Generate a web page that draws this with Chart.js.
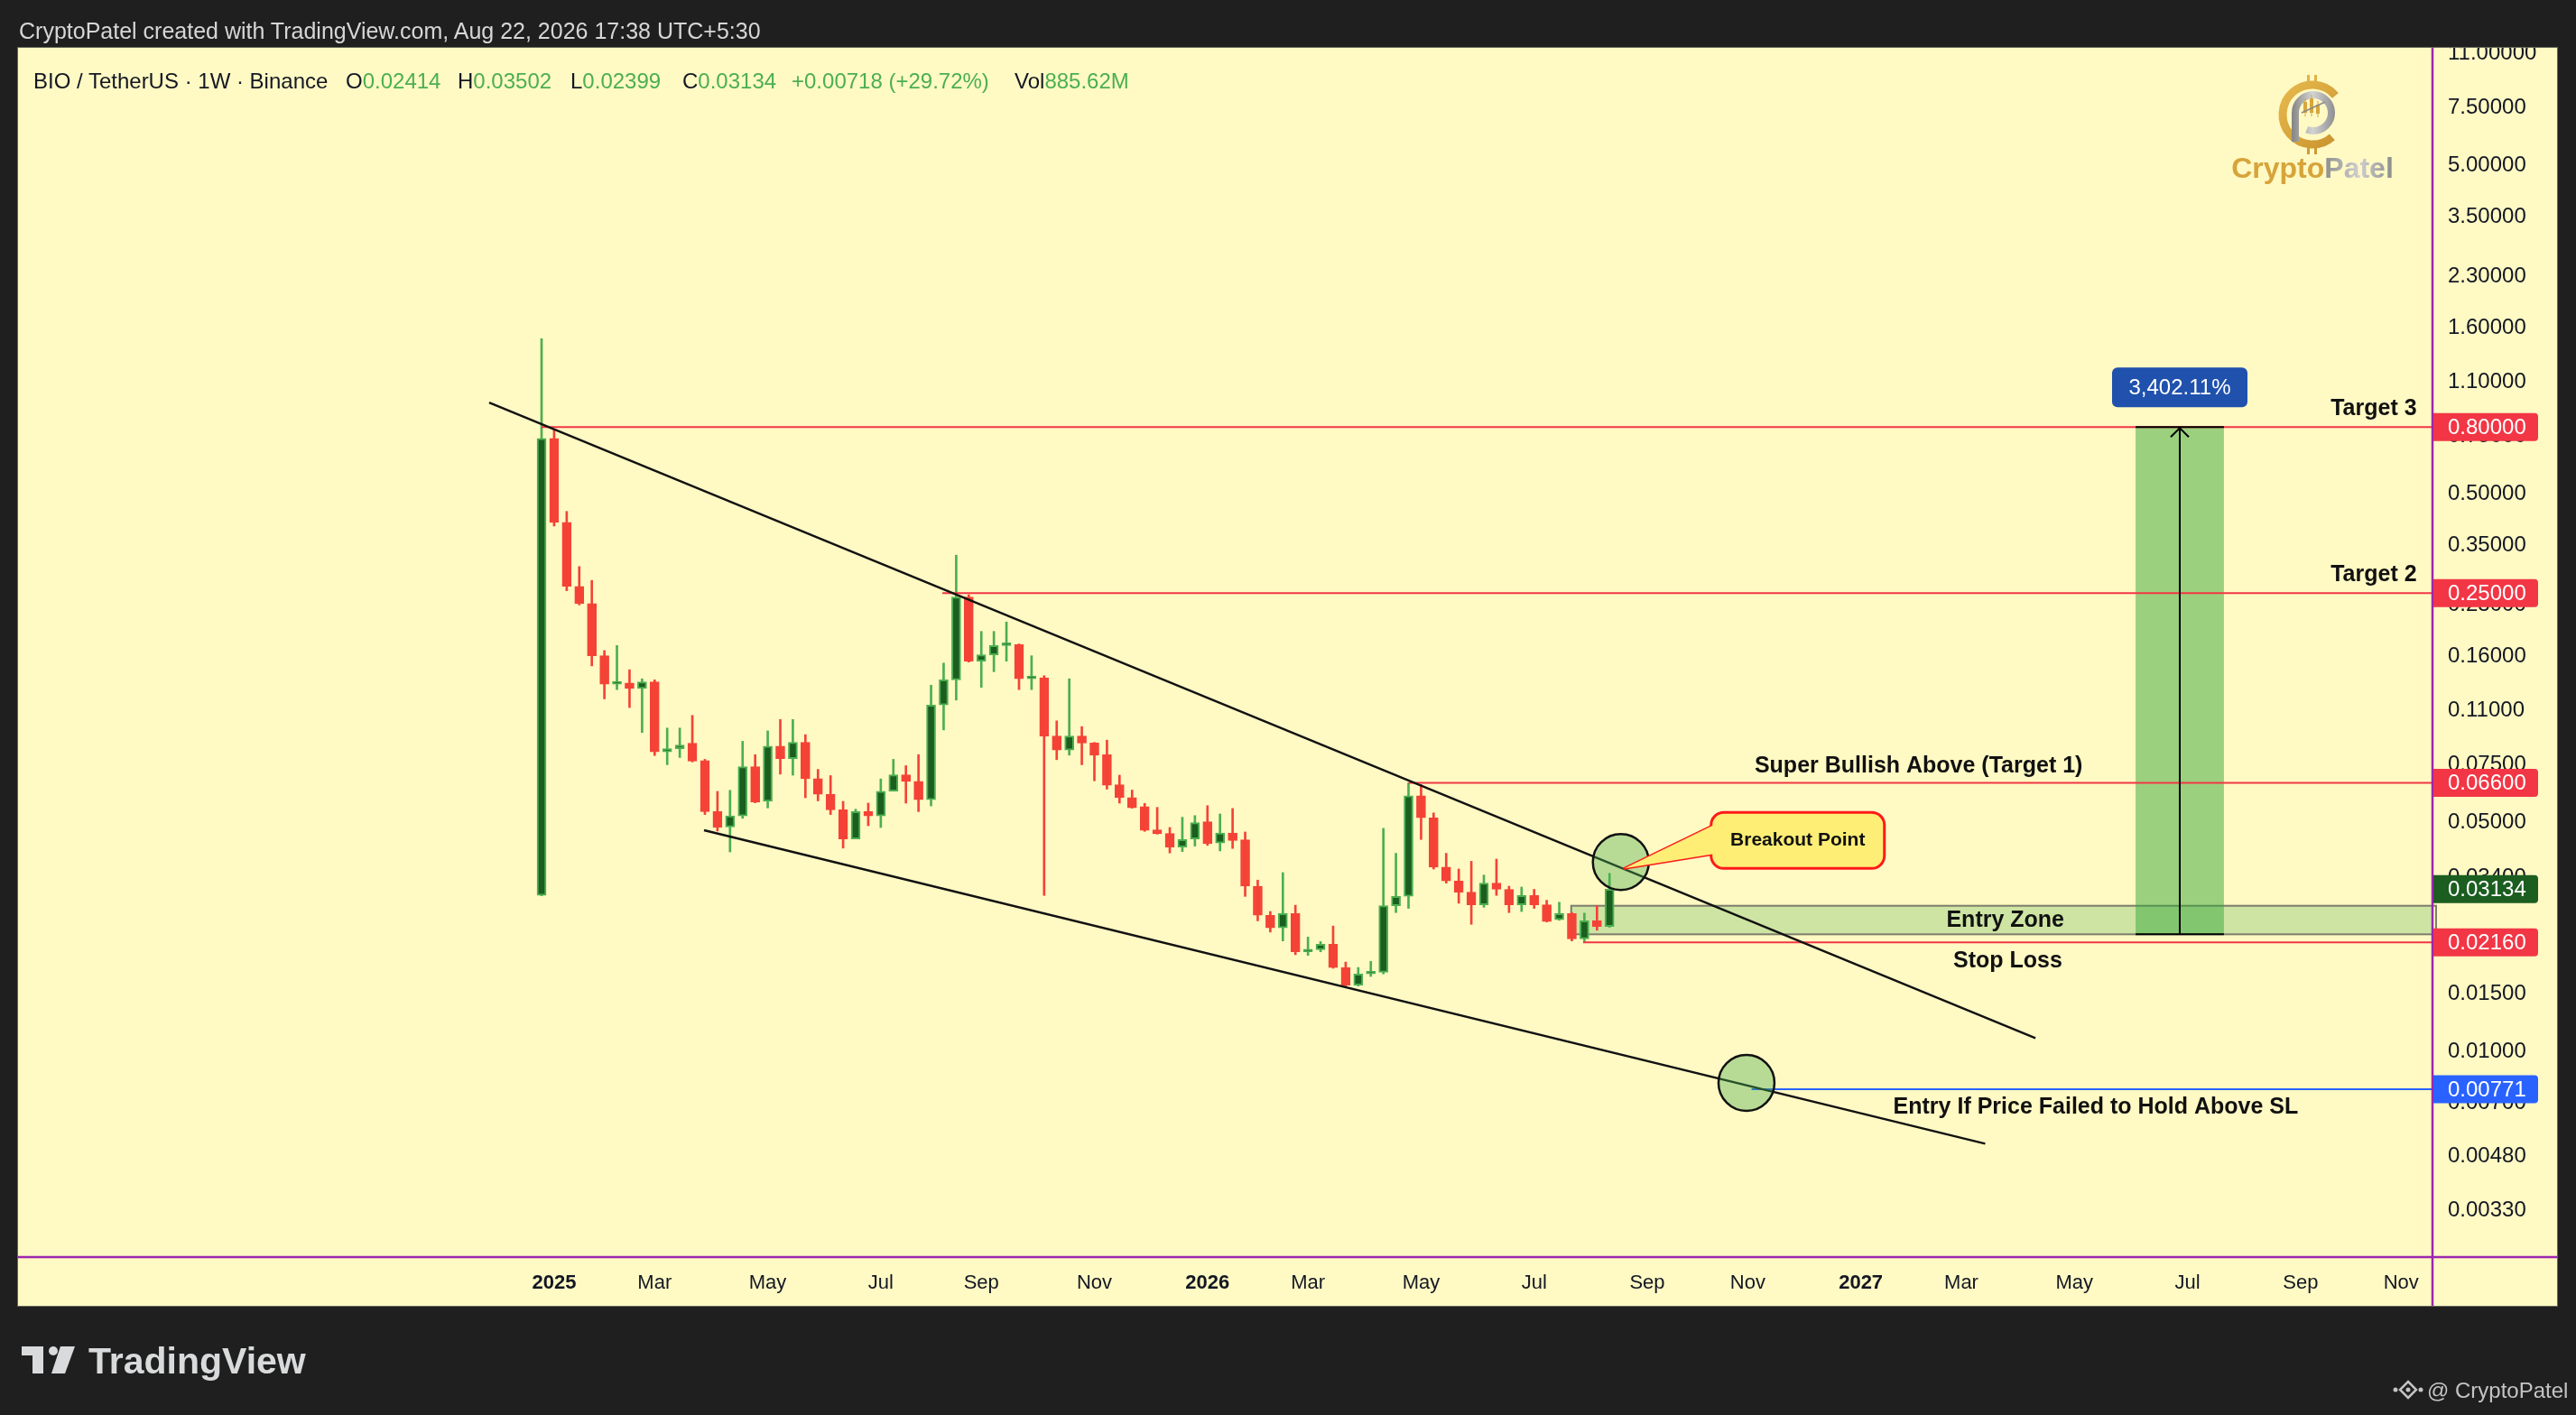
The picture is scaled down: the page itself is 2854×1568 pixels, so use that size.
<!DOCTYPE html>
<html>
<head>
<meta charset="utf-8">
<script src="https://cdn.jsdelivr.net/npm/chart.js@4.4.1/dist/chart.umd.min.js"></script>
<style>
  html, body { margin: 0; padding: 0; }
  body { width: 2854px; height: 1568px; background: #1f1f1f; position: relative; overflow: hidden; font-family: "Liberation Sans", Arial, sans-serif; }
  #panel { position: absolute; left: 20px; top: 53px; width: 2813px; height: 1394px; background: #fff9c4; box-shadow: 0 0 0 1px #66665a; }
  #panel canvas { display: block; }
  #ov { position: absolute; left: 0; top: 0; pointer-events: none; font-family: "Liberation Sans", Arial, sans-serif; }
</style>
</head>
<body>
<div id="panel"><canvas id="c" width="2813" height="1394" style="width:2813px;height:1394px"></canvas></div>
<svg id="ov" width="2854" height="1568">
  <text x="21" y="43" font-size="25" fill="#d6d6d6">CryptoPatel created with TradingView.com, Aug 22, 2026 17:38 UTC+5:30</text>
  <g font-size="24" fill="#131722">
    <text x="37" y="98">BIO / TetherUS · 1W · Binance</text>
    <text x="383" y="98">O<tspan fill="#4caf50">0.02414</tspan></text>
    <text x="507" y="98">H<tspan fill="#4caf50">0.03502</tspan></text>
    <text x="632" y="98">L<tspan fill="#4caf50">0.02399</tspan></text>
    <text x="756" y="98">C<tspan fill="#4caf50">0.03134</tspan></text>
    <text x="877" y="98" fill="#4caf50">+0.00718 (+29.72%)</text>
    <text x="1124" y="98">Vol<tspan fill="#4caf50">885.62M</tspan></text>
  </g>
  <g fill="#d9dadb">
    <path d="M24 1492 H48 V1522 H36 V1502 H24 Z"/>
    <circle cx="59" cy="1497" r="5"/>
    <path d="M67 1492 H83 L72 1522 H57 Z"/>
    <text x="98" y="1522" font-size="41" font-weight="bold">TradingView</text>
  </g>
  <g fill="none" stroke="#c4c4c4" stroke-width="2.5">
    <path d="M2668 1531 L2677 1540 L2668 1549 L2659 1540 Z"/>
  </g>
  <circle cx="2668" cy="1540" r="2.5" fill="#c4c4c4"/>
  <circle cx="2654" cy="1540" r="2.5" fill="#c4c4c4"/>
  <circle cx="2682" cy="1540" r="2.5" fill="#c4c4c4"/>
  <text x="2689" y="1549" font-size="24" fill="#c4c4c4">@ CryptoPatel</text>
</svg>
<script>
// weekly candles, first bar = week of 30 Dec 2024
const weekStart = "2024-12-30";
const opens = [
  0.0300, 0.739, 0.41, 0.262, 0.232, 0.161, 0.132, 0.133, 0.128, 0.134,
  0.0821, 0.0839, 0.0872, 0.0772, 0.054, 0.0485, 0.0524, 0.074, 0.058, 0.0854,
  0.0783, 0.0877, 0.068, 0.061, 0.0547, 0.0446, 0.054, 0.0524, 0.0623, 0.0699,
  0.0667, 0.0587, 0.114, 0.136, 0.243, 0.155, 0.162, 0.173, 0.174, 0.137,
  0.138, 0.0917, 0.0831, 0.0917, 0.0873, 0.0805, 0.0652, 0.0596, 0.0559, 0.0475,
  0.0463, 0.0421, 0.0446, 0.0503, 0.0433, 0.0465, 0.0443, 0.032, 0.0261, 0.0239,
  0.0264, 0.0202, 0.0205, 0.0213, 0.0181, 0.016, 0.0173, 0.0175, 0.0279, 0.0298,
  0.0603, 0.0517, 0.0366, 0.0332, 0.0307, 0.0281, 0.0327, 0.0313, 0.0281, 0.030,
  0.0281, 0.0253, 0.0264, 0.0221, 0.0251, 0.02414
];
const highs = [
  1.486, 0.79, 0.443, 0.301, 0.273, 0.167, 0.173, 0.146, 0.137, 0.136,
  0.097, 0.097, 0.106, 0.0779, 0.0622, 0.0627, 0.0884, 0.0805, 0.0951, 0.103,
  0.103, 0.0926, 0.0726, 0.0695, 0.058, 0.0549, 0.0573, 0.0679, 0.0779, 0.0745,
  0.0805, 0.131, 0.153, 0.326, 0.247, 0.191, 0.191, 0.204, 0.175, 0.161,
  0.140, 0.102, 0.137, 0.098, 0.0877, 0.0891, 0.0697, 0.0628, 0.0572, 0.0556,
  0.0483, 0.0519, 0.0525, 0.0563, 0.0531, 0.0552, 0.0468, 0.0334, 0.0268, 0.0352,
  0.028, 0.0224, 0.0217, 0.0242, 0.0188, 0.0181, 0.0189, 0.048, 0.0403, 0.066,
  0.0652, 0.0535, 0.0403, 0.0361, 0.0381, 0.0346, 0.0387, 0.032, 0.0318, 0.0313,
  0.029, 0.0286, 0.0266, 0.0265, 0.0279, 0.03502
];
const lows = [
  0.0299, 0.40, 0.254, 0.230, 0.150, 0.119, 0.127, 0.112, 0.094, 0.080,
  0.075, 0.0789, 0.0765, 0.0529, 0.0471, 0.0407, 0.0515, 0.0574, 0.0554, 0.0702,
  0.0697, 0.0595, 0.0582, 0.0529, 0.0418, 0.0446, 0.0489, 0.0483, 0.0623, 0.0573,
  0.054, 0.0562, 0.0957, 0.118, 0.154, 0.129, 0.144, 0.155, 0.127, 0.127,
  0.030, 0.0777, 0.0802, 0.075, 0.067, 0.0632, 0.0573, 0.0553, 0.047, 0.0461,
  0.0404, 0.0408, 0.0424, 0.0426, 0.041, 0.0417, 0.0298, 0.0251, 0.0232, 0.0218,
  0.0198, 0.0197, 0.0202, 0.018, 0.0157, 0.0159, 0.017, 0.0173, 0.0266, 0.0274,
  0.0444, 0.0361, 0.0327, 0.0284, 0.0245, 0.0276, 0.030, 0.0266, 0.0268, 0.0274,
  0.0249, 0.0252, 0.0218, 0.0216, 0.0235, 0.02399
];
const closes = [
  0.739, 0.41, 0.262, 0.232, 0.161, 0.132, 0.133, 0.128, 0.134, 0.0821,
  0.0839, 0.0861, 0.0769, 0.054, 0.0483, 0.0524, 0.074, 0.0577, 0.0854, 0.0783,
  0.0877, 0.068, 0.061, 0.0547, 0.0446, 0.054, 0.0524, 0.0623, 0.0699, 0.0667,
  0.0587, 0.114, 0.136, 0.243, 0.155, 0.162, 0.173, 0.175, 0.137, 0.138,
  0.0917, 0.0831, 0.0917, 0.0873, 0.0802, 0.0649, 0.0596, 0.0554, 0.0473, 0.0462,
  0.0421, 0.0444, 0.050, 0.0431, 0.0465, 0.0441, 0.032, 0.0261, 0.0239, 0.0264,
  0.0202, 0.0205, 0.0213, 0.0181, 0.016, 0.0173, 0.0175, 0.0279, 0.0298, 0.0603,
  0.0517, 0.0366, 0.0332, 0.0307, 0.0281, 0.0327, 0.0313, 0.0281, 0.030, 0.0281,
  0.025, 0.0264, 0.0221, 0.0251, 0.02414, 0.03134
];

// axes
const tickMonths = ["2025-01", "2025-03", "2025-05", "2025-07", "2025-09", "2025-11",
  "2026-01", "2026-03", "2026-05", "2026-07", "2026-09", "2026-11",
  "2027-01", "2027-03", "2027-05", "2027-07", "2027-09", "2027-11"];
const tickLabels = ["2025", "Mar", "May", "Jul", "Sep", "Nov",
  "2026", "Mar", "May", "Jul", "Sep", "Nov",
  "2027", "Mar", "May", "Jul", "Sep", "Nov"];
const priceTicks = [11, 7.5, 5, 3.5, 2.3, 1.6, 1.1, 0.75, 0.5, 0.35, 0.23, 0.16, 0.11,
  0.075, 0.05, 0.034, 0.022, 0.015, 0.01, 0.007, 0.0048, 0.0033];

// levels drawn on the chart: [price, first week]
const target3 = [0.8, 0];
const target2 = [0.25, 31.9];
const target1 = [0.066, 69];
const stopLoss = [0.0216, 82.9];
const reEntry = [0.00771, 96.3];
const lastPrice = 0.03134;
const entryZone = [0.02284, 0.0279];      // low, high
const entryZoneFrom = 81.95;
const rangeWeeks = [126.87, 133.9];      // measured target range
const rangePrices = [0.02284, 0.8];
const rangeLabel = "3,402.11%";
const upperTrend = [{ x: -4.17, y: 0.950 }, { x: 118.9, y: 0.01103 }];
const lowerTrend = [{ x: 12.93, y: 0.0474 }, { x: 114.9, y: 0.00526 }];
const breakoutPoint = { x: 85.9, y: 0.0379 };
const reEntryPoint = { x: 95.9, y: 0.00806 };

const X_MIN = -41.667, X_MAX = 150.5;
const FONT = '"Liberation Sans", Arial, sans-serif';
const RED = "#f23645", UP_FILL = "#1b5e20", UP_LINE = "#4caf50", DOWN = "#f44336";

function weekIndexOf(ym) {
  const [y, m] = ym.split("-").map(Number);
  const d = new Date(Date.UTC(y, m - 1, 1));
  while (d.getUTCDay() !== 1) d.setUTCDate(d.getUTCDate() + 1);
  return Math.round((d - Date.parse(weekStart + "T00:00:00Z")) / (7 * 864e5));
}

const isUp = closes.map((c, i) => c >= opens[i]);
const bodies = opens.map((o, i) => ({ x: i, y: [o, closes[i]] }));
const wicks = lows.map((l, i) => ({ x: i, y: [l, highs[i]] }));

function levelLine(lv, color) {
  return {
    type: "line", order: 0, data: [{ x: lv[1], y: lv[0] }, { x: X_MAX, y: lv[0] }],
    borderColor: color, borderWidth: 2, pointRadius: 0, fill: false
  };
}
function trendLine(pts) {
  return {
    type: "line", order: 0, data: pts, borderColor: "#111111", borderWidth: 2.5,
    pointRadius: 0, fill: false
  };
}

function roundRect(ctx, x, y, w, h, r) {
  ctx.beginPath();
  ctx.roundRect(x, y, w, h, r);
}

function drawLogo(ctx, cx, cy) {
  const gold = ctx.createLinearGradient(cx - 40, cy - 40, cx + 40, cy + 40);
  gold.addColorStop(0, "#e9bd4f");
  gold.addColorStop(1, "#c68e2b");
  ctx.save();
  ctx.strokeStyle = gold;
  ctx.lineWidth = 9;
  ctx.beginPath();
  ctx.arc(cx, cy, 33, 0.27 * Math.PI, 1.78 * Math.PI);
  ctx.stroke();
  ctx.fillStyle = gold;
  ctx.fillRect(cx - 6, cy - 44, 3, 7);
  ctx.fillRect(cx + 2, cy - 44, 3, 7);
  ctx.fillRect(cx - 6, cy + 37, 3, 7);
  ctx.fillRect(cx + 2, cy + 37, 3, 7);
  const grey = ctx.createLinearGradient(cx - 25, 0, cx + 25, 0);
  grey.addColorStop(0, "#7d7d7d");
  grey.addColorStop(0.5, "#d3d3d3");
  grey.addColorStop(1, "#8e8e8e");
  ctx.strokeStyle = grey;
  ctx.lineWidth = 8;
  ctx.beginPath();
  ctx.moveTo(cx - 19, cy + 30);
  ctx.lineTo(cx - 19, cy - 2);
  ctx.arc(cx + 1, cy - 2, 20, Math.PI, 0.62 * Math.PI, false);
  ctx.stroke();
  ctx.fillStyle = "#d9a53c";
  [[-8, -14, 12], [-1, -18, 16], [6, -11, 10]].forEach(([dx, dy, h]) => {
    ctx.fillRect(cx + dx - 2, cy + dy, 4, h);
    ctx.fillRect(cx + dx - 0.5, cy + dy - 4, 1, h + 8);
  });
  ctx.strokeStyle = "#8a8a8a";
  ctx.lineWidth = 1.5;
  ctx.beginPath();
  ctx.moveTo(cx - 12, cy - 2);
  ctx.lineTo(cx + 14, cy - 14);
  ctx.stroke();
  ctx.font = "bold 32px " + FONT;
  ctx.textBaseline = "alphabetic";
  const w1 = ctx.measureText("Crypto").width, w2 = ctx.measureText("Patel").width;
  const x0 = cx - (w1 + w2) / 2;
  ctx.fillStyle = "#d6a43a";
  ctx.textAlign = "left";
  ctx.fillText("Crypto", x0, cy + 70);
  const tg = ctx.createLinearGradient(x0 + w1, 0, x0 + w1 + w2, 0);
  tg.addColorStop(0, "#8d8d8d");
  tg.addColorStop(0.5, "#cfcfcf");
  tg.addColorStop(1, "#8a8a8a");
  ctx.fillStyle = tg;
  ctx.fillText("Patel", x0 + w1, cy + 70);
  ctx.restore();
}

const notes = [
  { text: "Target 3", x: 149.25, y: target3[0], dy: -20, align: "right" },
  { text: "Target 2", x: 149.25, y: target2[0], dy: -20, align: "right" },
  { text: "Super Bullish Above (Target 1)", x: 109.6, y: target1[0], dy: -19, align: "center" },
  { text: "Entry Zone", x: 116.5, y: Math.sqrt(entryZone[0] * entryZone[1]), dy: 1, align: "center" },
  { text: "Stop Loss", x: 116.7, y: stopLoss[0], dy: 21, align: "center" },
  { text: "Entry If Price Failed to Hold Above SL", x: 123.7, y: reEntry[0], dy: 20, align: "center" }
];

const overlay = {
  id: "overlay",
  beforeDatasetsDraw(chart) {
    const { ctx, chartArea: a, scales: { x, y } } = chart;
    ctx.save();
    // entry zone
    const zx = x.getPixelForValue(entryZoneFrom);
    const zt = y.getPixelForValue(entryZone[1]), zb = y.getPixelForValue(entryZone[0]);
    ctx.fillStyle = "rgba(76,175,80,0.28)";
    ctx.fillRect(zx, zt, a.right - zx, zb - zt);
    ctx.strokeStyle = "#7d7d6c";
    ctx.lineWidth = 2;
    ctx.strokeRect(zx, zt, a.right - zx + 4, zb - zt);
    // target range
    const rl = x.getPixelForValue(rangeWeeks[0]), rr = x.getPixelForValue(rangeWeeks[1]);
    const rt = y.getPixelForValue(rangePrices[1]), rb = y.getPixelForValue(rangePrices[0]);
    ctx.fillStyle = "rgba(56,168,58,0.5)";
    ctx.fillRect(rl, rt, rr - rl, rb - rt);
    ctx.restore();
  },
  afterDatasetsDraw(chart) {
    const { ctx, scales: { x, y } } = chart;
    ctx.save();
    // range arrow and label
    const rl = x.getPixelForValue(rangeWeeks[0]), rr = x.getPixelForValue(rangeWeeks[1]);
    const rt = y.getPixelForValue(rangePrices[1]), rb = y.getPixelForValue(rangePrices[0]);
    const rc = (rl + rr) / 2;
    ctx.strokeStyle = "#000";
    ctx.lineWidth = 2;
    ctx.beginPath();
    ctx.moveTo(rl, rb); ctx.lineTo(rr, rb);
    ctx.moveTo(rl, rt); ctx.lineTo(rr, rt);
    ctx.moveTo(rc, rb); ctx.lineTo(rc, rt + 1);
    ctx.moveTo(rc - 10, rt + 11); ctx.lineTo(rc, rt + 1); ctx.lineTo(rc + 10, rt + 11);
    ctx.stroke();
    ctx.fillStyle = "#1f51ad";
    roundRect(ctx, rc - 75, rt - 66, 150, 44, 6);
    ctx.fill();
    ctx.fillStyle = "#ffffff";
    ctx.font = "24px " + FONT;
    ctx.textAlign = "center";
    ctx.textBaseline = "middle";
    ctx.fillText(rangeLabel, rc, rt - 43);

    // circles
    [breakoutPoint, reEntryPoint].forEach(p => {
      ctx.beginPath();
      ctx.arc(x.getPixelForValue(p.x), y.getPixelForValue(p.y), 31, 0, Math.PI * 2);
      ctx.fillStyle = "rgba(76,175,80,0.4)";
      ctx.fill();
      ctx.lineWidth = 2.5;
      ctx.strokeStyle = "#111";
      ctx.stroke();
    });

    // callout
    const cx = x.getPixelForValue(breakoutPoint.x), cy = y.getPixelForValue(breakoutPoint.y);
    const bx = cx + 100, by = cy - 55, bw = 192, bh = 62;
    const ptr = () => {
      ctx.beginPath();
      ctx.moveTo(cx + 4, cy + 7);
      ctx.lineTo(bx + 3, cy - 41);
      ctx.lineTo(bx + 3, cy - 9);
      ctx.closePath();
    };
    ctx.fillStyle = "#ffee75";
    ctx.strokeStyle = "#ff1a1a";
    ctx.lineWidth = 3;
    ctx.lineJoin = "round";
    ptr(); ctx.fill(); ctx.stroke();
    roundRect(ctx, bx, by, bw, bh, 14);
    ctx.fill(); ctx.stroke();
    ptr(); ctx.fill();
    ctx.fillStyle = "#111";
    ctx.font = "bold 21px " + FONT;
    ctx.fillText("Breakout Point", bx + bw / 2, by + bh / 2);

    // notes
    ctx.font = "bold 25px " + FONT;
    notes.forEach(n => {
      ctx.textAlign = n.align;
      ctx.fillStyle = "#111";
      ctx.fillText(n.text, x.getPixelForValue(n.x), y.getPixelForValue(n.y) + n.dy);
    });
    ctx.restore();
  },
  afterDraw(chart) {
    const { ctx, chartArea: a, scales: { y } } = chart;
    ctx.save();
    // axis borders
    ctx.strokeStyle = "#9c27b0";
    ctx.lineWidth = 2.5;
    ctx.beginPath();
    ctx.moveTo(a.right, 0); ctx.lineTo(a.right, chart.height);
    ctx.moveTo(0, a.bottom); ctx.lineTo(chart.width, a.bottom);
    ctx.stroke();
    // price tags
    const tags = [[target3[0], RED], [target2[0], RED], [target1[0], RED],
      [lastPrice, "#1b5e20"], [stopLoss[0], RED], [reEntry[0], "#2962ff"]];
    ctx.font = "24px " + FONT;
    ctx.textAlign = "left";
    ctx.textBaseline = "middle";
    tags.forEach(([v, col]) => {
      const py = y.getPixelForValue(v);
      ctx.fillStyle = col;
      roundRect(ctx, a.right + 1, py - 15.5, 116, 31, [0, 4, 4, 0]);
      ctx.fill();
      ctx.fillStyle = "#ffffff";
      ctx.fillText(v.toFixed(5), a.right + 17, py + 1);
    });
    drawLogo(ctx, 2542, 74);
    ctx.restore();
  }
};

new Chart(document.getElementById("c"), {
  type: "bar",
  data: {
    datasets: [
      trendLine(upperTrend),
      trendLine(lowerTrend),
      levelLine(target3, RED),
      levelLine(target2, RED),
      levelLine(target1, RED),
      levelLine(stopLoss, RED),
      levelLine(reEntry, "#2962ff"),
      {
        type: "bar", order: 1, data: bodies, grouped: false, barThickness: 10, minBarLength: 3,
        backgroundColor: isUp.map(u => u ? UP_FILL : DOWN),
        borderColor: isUp.map(u => u ? UP_LINE : DOWN),
        borderWidth: 2, borderSkipped: false
      },
      {
        type: "bar", order: 2, data: wicks, grouped: false, barThickness: 2,
        backgroundColor: isUp.map(u => u ? UP_LINE : DOWN), borderWidth: 0
      }
    ]
  },
  options: {
    responsive: false,
    animation: false,
    devicePixelRatio: 1,
    layout: { padding: 0 },
    plugins: { legend: { display: false }, tooltip: { enabled: false } },
    scales: {
      x: {
        type: "linear", min: X_MIN, max: X_MAX, bounds: "data", offset: false,
        grid: { display: false, drawTicks: false }, border: { display: false },
        afterBuildTicks: s => { s.ticks = tickMonths.map(m => ({ value: weekIndexOf(m) })); },
        afterFit: s => { s.height = 54; s.paddingLeft = 0; s.paddingRight = 0; },
        ticks: {
          autoSkip: false, maxRotation: 0, padding: 16, color: "#131722",
          callback: (v, i) => tickLabels[i],
          font: c => ({ family: FONT, size: 22, weight: /^\d{4}$/.test(tickLabels[c.index]) ? "bold" : "normal" })
        }
      },
      y: {
        type: "logarithmic", position: "right", min: 0.002376, max: 11.43, bounds: "data",
        grid: { display: false, drawTicks: false }, border: { display: false },
        afterBuildTicks: s => { s.ticks = priceTicks.map(v => ({ value: v })); },
        afterFit: s => { s.width = 138; s.paddingTop = 0; s.paddingBottom = 0; },
        ticks: {
          autoSkip: false, padding: 17, color: "#131722", font: { family: FONT, size: 24 },
          callback: v => Number(v).toFixed(5)
        }
      }
    }
  },
  plugins: [overlay]
});
</script>
</body>
</html>
